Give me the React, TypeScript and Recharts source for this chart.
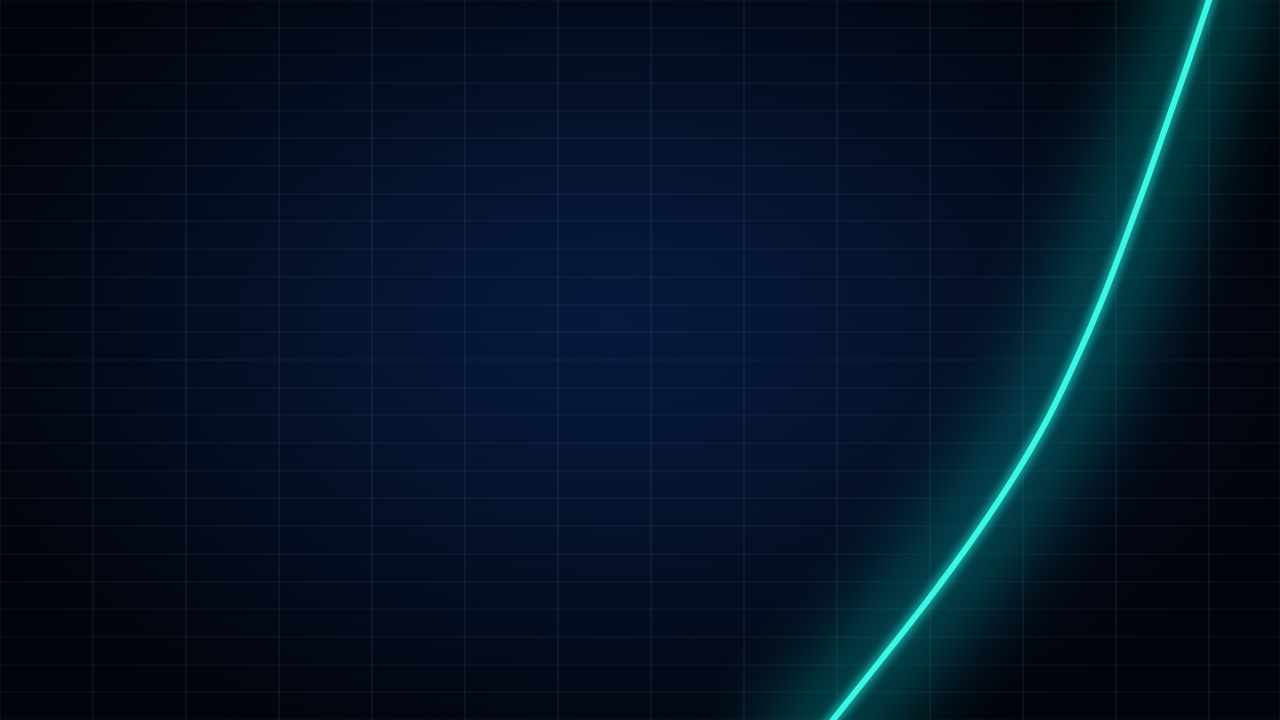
import React from "react";
import { LineChart, Line, XAxis, YAxis, CartesianGrid } from "recharts";

// grid positions
const xTicks = [93, 186, 279, 372, 465, 558, 651, 744, 837, 930, 1023, 1116, 1209];
const yTicks = [
  28, 55, 83, 111, 138, 166, 194, 222, 249, 277, 305, 332, 360,
  388, 415, 443, 471, 499, 526, 554, 582, 609, 637, 665, 692,
];

// the curve (height from the bottom -> horizontal position)
const curveHeight = [-60, 0, 60, 120, 180, 240, 300, 360, 420, 480, 540, 600, 660, 720, 780];
const curveX = [784, 833, 881, 928, 972, 1012, 1047, 1076, 1102, 1125, 1147, 1168, 1189, 1209, 1228];

const data = curveHeight.map((h, i) => ({ h, x: curveX[i] }));

const W = 1280;
const H = 720;

export default function App() {
  return (
    <div
      style={{
        position: "absolute",
        left: 0,
        top: 0,
        width: W,
        height: H,
        overflow: "hidden",
        background:
          "radial-gradient(ellipse 55% 65% at 48% 45%, #061a3e 0%, #05132e 40%, #030a19 75%, #01040b 100%)",
      }}
    >
      <svg width={0} height={0} style={{ position: "absolute" }}>
        <defs>
          <filter id="glowBig" x="-100%" y="-20%" width="300%" height="140%">
            <feGaussianBlur stdDeviation="34" />
          </filter>
          <filter id="glowSmall" x="-50%" y="-20%" width="200%" height="140%">
            <feGaussianBlur stdDeviation="4" />
          </filter>
        </defs>
      </svg>
      <LineChart
        layout="vertical"
        width={W}
        height={H}
        data={data}
        margin={{ top: 0, right: 0, bottom: 0, left: 0 }}
      >
        <XAxis type="number" domain={[0, W]} ticks={xTicks} allowDataOverflow hide />
        <YAxis
          type="number"
          dataKey="h"
          domain={[0, H]}
          ticks={yTicks}
          reversed
          allowDataOverflow
          hide
        />
        <CartesianGrid horizontal={false} stroke="rgba(120,150,180,0.12)" strokeWidth={1.5} />
        <CartesianGrid vertical={false} stroke="rgba(120,150,180,0.07)" strokeWidth={1.5} />
        <Line
          type="monotone"
          dataKey="x"
          stroke="#0e8a8c"
          strokeOpacity={0.45}
          strokeWidth={100}
          dot={false}
          activeDot={false}
          filter="url(#glowBig)"
          isAnimationActive={false}
        />
        <Line
          type="monotone"
          dataKey="x"
          stroke="#1fd8cc"
          strokeOpacity={0.65}
          strokeWidth={13}
          dot={false}
          activeDot={false}
          filter="url(#glowSmall)"
          isAnimationActive={false}
        />
        <Line
          type="monotone"
          dataKey="x"
          stroke="#3af7e4"
          strokeWidth={6}
          dot={false}
          activeDot={false}
          isAnimationActive={false}
        />
      </LineChart>
    </div>
  );
}
